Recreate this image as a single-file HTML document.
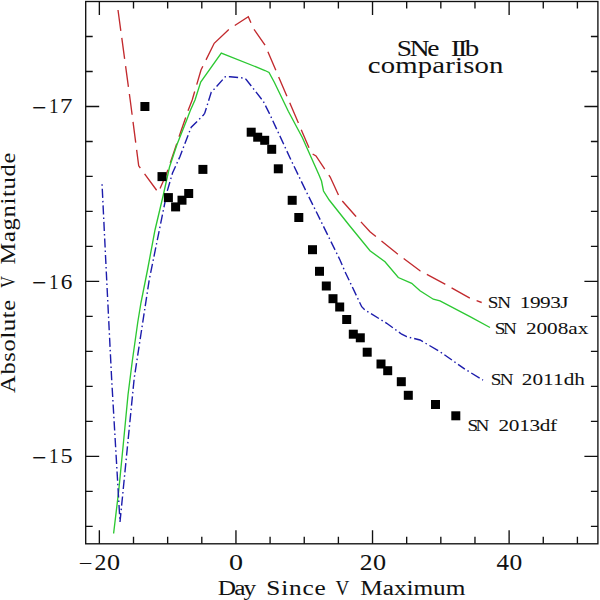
<!DOCTYPE html>
<html><head><meta charset="utf-8"><style>
html,body{margin:0;padding:0;background:#fff;}
svg{display:block;}
text{font-family:"Liberation Serif",serif;font-size:100px;fill:#111;stroke:#111;stroke-width:0.2;}
</style></head><body>
<svg width="600" height="600" viewBox="0 0 600 600">
<rect width="600" height="600" fill="#fff"/>
<g fill="none" stroke="#111" stroke-width="1.35">
<rect x="85.7" y="1.5" width="512.2" height="542.3"/>
<path d="M99.36 543.80V530.30 M99.36 1.50V15.00 M133.51 543.80V536.80 M133.51 1.50V8.50 M167.65 543.80V536.80 M167.65 1.50V8.50 M201.80 543.80V536.80 M201.80 1.50V8.50 M235.95 543.80V530.30 M235.95 1.50V15.00 M270.09 543.80V536.80 M270.09 1.50V8.50 M304.24 543.80V536.80 M304.24 1.50V8.50 M338.39 543.80V536.80 M338.39 1.50V8.50 M372.53 543.80V530.30 M372.53 1.50V15.00 M406.68 543.80V536.80 M406.68 1.50V8.50 M440.83 543.80V536.80 M440.83 1.50V8.50 M474.97 543.80V536.80 M474.97 1.50V8.50 M509.12 543.80V530.30 M509.12 1.50V15.00 M543.27 543.80V536.80 M543.27 1.50V8.50 M577.41 543.80V536.80 M577.41 1.50V8.50 M85.70 36.49H92.70 M597.90 36.49H590.90 M85.70 71.47H92.70 M597.90 71.47H590.90 M85.70 106.46H99.20 M597.90 106.46H584.40 M85.70 141.45H92.70 M597.90 141.45H590.90 M85.70 176.44H92.70 M597.90 176.44H590.90 M85.70 211.42H92.70 M597.90 211.42H590.90 M85.70 246.41H92.70 M597.90 246.41H590.90 M85.70 281.40H99.20 M597.90 281.40H584.40 M85.70 316.38H92.70 M597.90 316.38H590.90 M85.70 351.37H92.70 M597.90 351.37H590.90 M85.70 386.36H92.70 M597.90 386.36H590.90 M85.70 421.35H92.70 M597.90 421.35H590.90 M85.70 456.33H99.20 M597.90 456.33H584.40 M85.70 491.32H92.70 M597.90 491.32H590.90 M85.70 526.31H92.70 M597.90 526.31H590.90"/>
</g>
<path fill="none" stroke="#c22a2e" stroke-width="1.35" d="M118.00 10.00 L120.82 30.82M121.79 37.95 L124.63 58.92M125.60 66.05 L128.42 86.83M129.38 93.97 L130.20 100.00 L132.11 114.76M133.03 121.90 L135.72 142.70M136.64 149.84 L138.70 165.80 L140.33 168.02M144.59 173.82 L156.63 190.23M160.06 188.48 L166.70 173.30 L167.91 169.71M170.22 162.89 L176.75 143.61M179.06 136.79 L180.00 134.00 L185.69 117.54M188.04 110.74 L188.30 110.00 L192.20 100.00 L194.69 91.51M196.72 84.60 L201.00 70.00 L202.83 66.29M206.02 59.84 L214.20 43.30 L228.80 29.58M234.76 25.56 L248.30 16.70 L250.94 22.83M254.01 29.31 L265.00 45.00 L265.06 45.13M267.89 51.75 L275.83 70.31M278.66 76.93 L286.91 96.19M289.74 102.81 L298.41 123.08M301.24 129.70 L309.01 147.85M312.64 154.00 L316.00 156.00 L324.75 169.13M328.85 175.05 L330.20 177.00 L338.46 194.91M342.30 201.00 L342.30 201.00 L356.00 216.50 L356.05 216.56M360.93 221.85 L370.00 231.70 L375.89 236.46M381.48 240.99 L396.70 253.30 L397.88 254.19M403.64 258.51 L420.00 270.80 L420.49 271.06M426.83 274.46 L445.00 284.20 L445.30 284.37M451.58 287.91 L469.83 298.21M476.60 300.67 L481.70 302.50"/>
<polyline fill="none" stroke="#2cc832" stroke-width="1.35" points="113.6,533.5 118.8,490.0 123.5,442.0 128.0,395.0 132.3,361.0 137.8,322.0 141.0,302.5 147.5,270.0 155.0,230.0 163.3,195.0 169.5,167.0 177.0,144.5 186.7,120.0 190.3,110.5 195.0,100.0 200.7,82.0 221.3,53.0 265.0,70.5 269.0,72.5 274.3,82.2 288.3,111.3 302.3,137.5 318.7,174.3 321.5,181.0 323.5,191.0 329.2,200.0 349.0,225.0 370.0,250.8 385.0,261.7 398.3,277.5 411.7,283.3 420.0,290.8 433.3,299.2 440.0,300.8 470.0,316.7 490.0,327.5"/>
<path fill="none" stroke="#1c1cac" stroke-width="1.4" d="M102.05 184.31 L102.12 185.81M102.27 188.81 L102.71 197.90M102.86 200.90 L102.93 202.39M103.07 205.39 L103.51 214.41M103.66 217.41 L103.73 218.91M103.88 221.90 L104.31 230.92M104.46 233.92 L104.53 235.42M104.68 238.42 L105.12 247.44M105.26 250.43 L105.34 251.93M105.48 254.93 L105.92 263.95M106.07 266.95 L106.14 268.45M106.28 271.44 L106.70 280.00 L106.72 280.46M106.87 283.46 L106.95 284.96M107.10 287.95 L107.55 297.06M107.70 300.06 L107.78 301.56M107.93 304.55 L108.38 313.66M108.53 316.65 L108.61 318.15M108.76 321.15 L109.21 330.26M109.36 333.25 L109.44 334.75M109.59 337.75 L110.04 346.85M110.19 349.85 L110.27 351.35M110.42 354.34 L110.88 363.59M111.03 366.59 L111.10 368.09M111.25 371.08 L111.70 380.00 L111.72 380.33M111.89 383.32 L111.98 384.82M112.16 387.82 L112.70 397.06M112.87 400.05 L112.96 401.55M113.13 404.55 L113.67 413.79M113.85 416.78 L113.94 418.28M114.11 421.28 L114.65 430.52M114.83 433.51 L114.92 435.01M115.09 438.01 L115.63 447.25M115.81 450.24 L115.89 451.74M116.07 454.74 L116.61 463.98M116.78 466.97 L116.87 468.47M117.05 471.47 L117.59 480.71M117.76 483.70 L117.85 485.20M118.02 488.20 L118.56 497.44M118.74 500.43 L118.83 501.93M119.00 504.93 L119.54 514.17M119.72 517.16 L119.80 518.66M119.98 521.66 L120.00 522.00 L120.88 513.13M121.17 510.14 L121.32 508.65M121.61 505.67 L122.52 496.45M122.82 493.47 L122.97 491.97M123.26 488.99 L124.17 479.78M124.47 476.79 L124.62 475.30M124.91 472.31 L125.82 463.10M126.12 460.11 L126.26 458.62M126.56 455.63 L127.47 446.42M127.76 443.43 L127.91 441.94M128.21 438.96 L129.12 429.74M129.41 426.76 L129.56 425.26M129.85 422.28 L130.76 413.07M131.06 410.08 L131.21 408.59M131.50 405.60 L132.41 396.39M132.71 393.40 L132.86 391.91M133.15 388.92 L134.06 379.71M134.44 376.74 L134.66 375.25M135.12 372.29 L136.51 363.13M136.97 360.17 L137.19 358.69M137.65 355.72 L139.04 346.57M139.49 343.60 L139.72 342.12M140.17 339.15 L141.57 330.00M142.02 327.04 L142.25 325.55M142.70 322.59 L144.10 313.43M144.55 310.47 L144.78 308.99M145.23 306.02 L146.63 296.87M147.08 293.90 L147.30 292.42M147.76 289.45 L149.15 280.30M149.74 277.36 L150.03 275.89M150.63 272.95 L152.47 263.87M153.07 260.93 L153.36 259.46M153.96 256.52 L155.80 247.45M156.40 244.51 L156.70 243.04M157.29 240.10 L159.13 231.03M159.73 228.09 L160.03 226.62M160.62 223.68 L162.46 214.60M163.06 211.66 L163.36 210.19M163.95 207.25 L165.79 198.18M166.39 195.24 L166.69 193.77M167.30 190.83 L169.89 181.94M170.73 179.06 L171.15 177.62M171.99 174.74 L172.50 173.00 L175.58 166.22M176.82 163.49 L177.44 162.13M178.68 159.40 L180.00 156.50 L182.16 150.82M183.22 148.01 L183.75 146.61M184.82 143.81 L188.10 135.15M189.21 132.36 L189.76 130.97M190.88 128.18 L191.25 127.25 L197.09 121.41M199.21 119.29 L200.27 118.23M202.39 116.11 L203.25 115.25 L204.70 113.30 L206.36 107.94M207.25 105.07 L207.69 103.64M208.58 100.77 L211.30 92.00 L211.35 91.95M213.50 89.86 L214.58 88.82M216.58 86.58 L222.71 79.64M224.69 77.39 L225.30 76.70 L225.88 76.70M228.88 76.70 L230.00 76.70 L238.10 77.49M241.09 77.78 L242.58 77.93M245.35 78.99 L246.00 79.30 L251.28 86.02M253.14 88.38 L254.06 89.55M255.92 91.91 L261.65 99.20M263.44 101.59 L264.12 102.93M265.46 105.61 L269.60 113.90M270.89 116.61 L271.52 117.97M272.78 120.69 L276.68 129.10M277.94 131.82 L278.57 133.18M279.83 135.91 L283.73 144.31M284.99 147.03 L285.62 148.39M286.88 151.12 L290.78 159.52M292.08 162.23 L292.73 163.58M294.03 166.28 L298.06 174.62M299.37 177.32 L300.02 178.67M301.33 181.38 L305.54 190.09M306.84 192.79 L307.51 194.13M308.85 196.82 L312.83 204.84M314.17 207.53 L314.84 208.87M316.16 211.56 L320.16 219.68M321.48 222.37 L322.14 223.71M323.47 226.41 L327.64 234.89M328.97 237.58 L329.63 238.93M330.95 241.62 L335.05 249.93M336.37 252.63 L337.03 253.97M338.36 256.66 L340.00 260.00 L342.17 265.08M343.35 267.83 L343.94 269.21M345.13 271.97 L349.11 280.30M350.40 283.01 L351.04 284.37M352.34 287.07 L356.31 295.41M357.61 298.12 L358.25 299.47M359.54 302.18 L361.70 306.70 L364.69 309.69M367.18 311.34 L368.46 312.12M371.02 313.69 L378.90 318.52M381.45 320.09 L382.73 320.87M385.29 322.44 L386.70 323.30 L392.84 327.76M395.26 329.52 L396.48 330.40M398.90 332.17 L401.70 334.20 L406.70 336.70 L406.89 336.75M409.80 337.47 L411.25 337.83M414.16 338.55 L420.00 340.00 L422.93 341.72M425.52 343.23 L426.82 343.99M429.41 345.50 L438.17 350.63M440.72 352.20 L441.95 353.06M444.40 354.78 L451.90 360.03M454.36 361.75 L455.59 362.61M458.05 364.33 L464.86 369.10M467.42 370.67 L468.71 371.44M471.27 373.00 L479.64 378.06M482.20 379.62 L483.00 380.10"/>
<g fill="#000"><rect x="140.4" y="102.0" width="9" height="9"/><rect x="157.5" y="172.1" width="9" height="9"/><rect x="163.9" y="193.1" width="9" height="9"/><rect x="171.1" y="202.4" width="9" height="9"/><rect x="177.5" y="195.7" width="9" height="9"/><rect x="184.2" y="189.0" width="9" height="9"/><rect x="198.4" y="164.9" width="9" height="9"/><rect x="246.7" y="127.7" width="9" height="9"/><rect x="253.2" y="132.7" width="9" height="9"/><rect x="260.2" y="135.8" width="9" height="9"/><rect x="267.2" y="144.8" width="9" height="9"/><rect x="273.8" y="164.3" width="9" height="9"/><rect x="287.7" y="195.8" width="9" height="9"/><rect x="294.3" y="213.0" width="9" height="9"/><rect x="308.0" y="245.2" width="9" height="9"/><rect x="315.0" y="266.8" width="9" height="9"/><rect x="321.8" y="281.5" width="9" height="9"/><rect x="328.5" y="294.2" width="9" height="9"/><rect x="335.2" y="302.5" width="9" height="9"/><rect x="342.2" y="315.0" width="9" height="9"/><rect x="348.8" y="329.7" width="9" height="9"/><rect x="355.8" y="333.3" width="9" height="9"/><rect x="362.7" y="347.7" width="9" height="9"/><rect x="376.5" y="359.5" width="9" height="9"/><rect x="383.2" y="366.2" width="9" height="9"/><rect x="396.8" y="377.2" width="9" height="9"/><rect x="403.8" y="390.8" width="9" height="9"/><rect x="431.0" y="400.0" width="9" height="9"/><rect x="451.3" y="411.3" width="9" height="9"/></g>
<text transform="translate(33.20 114.81) scale(0.2553 0.2183) translate(-5.00 0)">−</text>
<text letter-spacing="0.00" transform="translate(50.80 113.30) scale(0.1914 0.2183) translate(-9.00 0)">1</text>
<text letter-spacing="0.00" transform="translate(61.70 113.30) scale(0.2500 0.2183) translate(-7.00 0)">7</text>
<text transform="translate(33.20 290.01) scale(0.2553 0.2183) translate(-5.00 0)">−</text>
<text letter-spacing="0.00" transform="translate(50.80 288.50) scale(0.1914 0.2183) translate(-9.00 0)">1</text>
<text letter-spacing="0.00" transform="translate(61.70 288.50) scale(0.2326 0.2183) translate(-4.00 0)">6</text>
<text transform="translate(33.20 464.81) scale(0.2553 0.2183) translate(-5.00 0)">−</text>
<text letter-spacing="0.00" transform="translate(50.80 463.30) scale(0.1914 0.2183) translate(-9.00 0)">1</text>
<text letter-spacing="0.00" transform="translate(62.00 463.30) scale(0.2425 0.2183) translate(-6.00 0)">5</text>
<text transform="translate(80.00 570.87) scale(0.2447 0.2260) translate(-5.00 0)">−</text>
<text letter-spacing="0.00" transform="translate(95.50 569.80) scale(0.2375 0.2260) translate(-4.00 0)">2</text>
<text letter-spacing="0.00" transform="translate(108.00 569.80) scale(0.2619 0.2260) translate(-4.00 0)">0</text>
<text letter-spacing="0.00" transform="translate(230.00 569.80) scale(0.2810 0.2260) translate(-4.00 0)">0</text>
<text letter-spacing="0.00" transform="translate(360.80 569.80) scale(0.2550 0.2260) translate(-4.00 0)">2</text>
<text letter-spacing="0.00" transform="translate(374.00 569.80) scale(0.2619 0.2260) translate(-4.00 0)">0</text>
<text letter-spacing="0.00" transform="translate(497.00 569.80) scale(0.2500 0.2260) translate(-2.00 0)">4</text>
<text letter-spacing="0.00" transform="translate(510.50 569.80) scale(0.2548 0.2260) translate(-4.00 0)">0</text>
<text letter-spacing="-7.34" transform="translate(218.50 594.60) scale(0.2528 0.2107) translate(-3.00 0)">Day</text>
<text letter-spacing="3.36" transform="translate(268.00 594.60) scale(0.2528 0.2107) translate(-7.00 0)">Since</text>
<text letter-spacing="0.00" transform="translate(335.80 594.60) scale(0.1914 0.2107) translate(-1.00 0)">V</text>
<text letter-spacing="-0.11" transform="translate(361.00 594.60) scale(0.2528 0.2107) translate(-3.00 0)">Maximum</text>
<text letter-spacing="-8.68" transform="translate(398.75 56.20) scale(0.2748 0.2290) translate(-7.00 0)">SNe</text>
<text letter-spacing="-9.16" transform="translate(452.00 56.20) scale(0.2895 0.2412) translate(-4.00 0)">IIb</text>
<text letter-spacing="0.66" transform="translate(369.00 73.00) scale(0.2870 0.2391) translate(-4.00 0)">comparison</text>
<text letter-spacing="-6.64" transform="translate(489.20 307.70) scale(0.1913 0.1771) translate(-7.00 0)">SN</text>
<text letter-spacing="-2.30" transform="translate(521.75 307.70) scale(0.2125 0.1771) translate(-9.00 0)">1993J</text>
<text letter-spacing="-12.65" transform="translate(496.10 333.90) scale(0.1913 0.1771) translate(-7.00 0)">SN</text>
<text letter-spacing="-0.16" transform="translate(526.75 333.90) scale(0.2125 0.1771) translate(-4.00 0)">2008ax</text>
<text letter-spacing="-8.21" transform="translate(492.00 384.60) scale(0.1913 0.1771) translate(-7.00 0)">SN</text>
<text letter-spacing="0.29" transform="translate(522.60 384.60) scale(0.2125 0.1771) translate(-4.00 0)">2011dh</text>
<text letter-spacing="-12.65" transform="translate(468.75 430.70) scale(0.1913 0.1771) translate(-7.00 0)">SN</text>
<text letter-spacing="-1.50" transform="translate(499.40 430.70) scale(0.2125 0.1771) translate(-4.00 0)">2013df</text>
<g transform="translate(15 0) rotate(-90)">
<text letter-spacing="2.81" transform="translate(-392.70 0.00) scale(0.2445 0.2183) translate(-1.00 0)">Absolute</text>
<text letter-spacing="0.00" transform="translate(-287.50 0.00) scale(0.1607 0.2183) translate(-1.00 0)">V</text>
<text letter-spacing="3.09" transform="translate(-263.75 0.00) scale(0.2445 0.2183) translate(-3.00 0)">Magnitude</text>
</g>
</svg>
</body></html>
